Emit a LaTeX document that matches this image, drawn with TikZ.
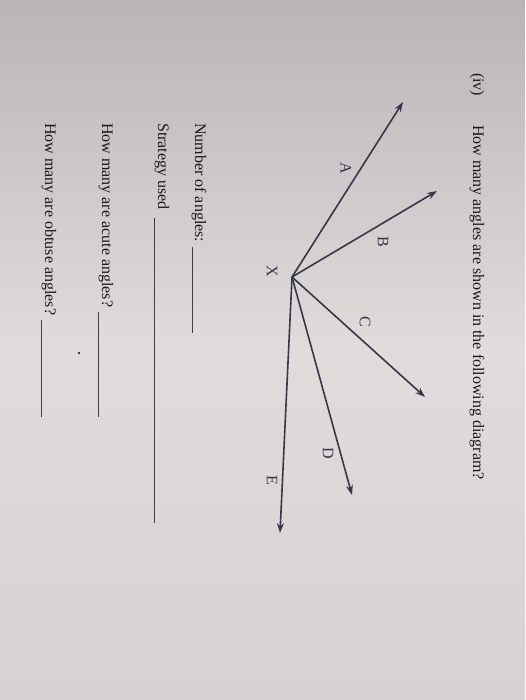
\documentclass[tikz,border=0pt]{standalone}
\usepackage{fontspec}
\setmainfont{Liberation Serif}
\usetikzlibrary{arrows.meta, positioning}

\definecolor{ink}{RGB}{55,55,72}
\definecolor{paperlight}{RGB}{224,220,220}
\definecolor{papermid}{RGB}{214,209,210}
\definecolor{paperdark}{RGB}{186,180,182}

\begin{document}
\begin{tikzpicture}[x=1pt, y=-1pt,
    % rays out of the vertex
    ray/.style={-{Stealth[length=10pt, width=7pt]}, line width=1.6pt, draw=ink},
    % letters on the rays
    raylbl/.style={font=\fontsize{16}{18}\selectfont, text=ink, rotate=-90, inner sep=0pt},
    % question lines
    qtext/.style={font=\fontsize{16}{18}\selectfont, text=black!90, rotate=-90, anchor=base west, inner sep=0pt},
    blank/.style={line width=0.8pt, draw=black!75}
]

% paper
\shade[top color=paperdark, bottom color=papermid, middle color=paperlight] (0,0) rectangle (525,700);
\useasboundingbox (0,0) rectangle (525,700);

% Heading
\node[qtext] (num) at (473,73) {(iv)};
\node[qtext] (head) at (473,125) {How many angles are shown in the following diagram?};

% Vertex and ray tips
\coordinate (x) at (292,277);
\coordinate (tipA) at (403,102);
\coordinate (tipB) at (437,191);
\coordinate (tipC) at (425,397);
\coordinate (tipD) at (352,495);
\coordinate (tipE) at (280,533);

\draw[ray] (x) -- (tipA);
\draw[ray] (x) -- (tipB);
\draw[ray] (x) -- (tipC);
\draw[ray] (x) -- (tipD);
\draw[ray] (x) -- (tipE);

% Ray labels
\node[raylbl] (lblA) at (346,168) {A};
\node[raylbl] (lblB) at (383,242) {B};
\node[raylbl] (lblX) at (272,271) {X};
\node[raylbl] (lblC) at (365,322) {C};
\node[raylbl] (lblD) at (328,453) {D};
\node[raylbl] (lblE) at (272,480) {E};

% Questions
\node[qtext] (q1) at (195,123) {Number of angles:};
\node[qtext] (q2) at (158,123) {Strategy used};
\node[qtext] (q3) at (102,123) {How many are acute angles?};
\node[qtext] (q4) at (45,123) {How many are obtuse angles?};

% Answer blanks
\draw[blank] (192,247) -- (192,333);
\draw[blank] (154,218) -- (154,523);
\draw[blank] (98,312) -- (98,417);
\draw[blank] (41,320) -- (41,417);

% stray dot on the page
\fill[black!80] (79,353) circle (1.4);

\end{tikzpicture}
\end{document}
